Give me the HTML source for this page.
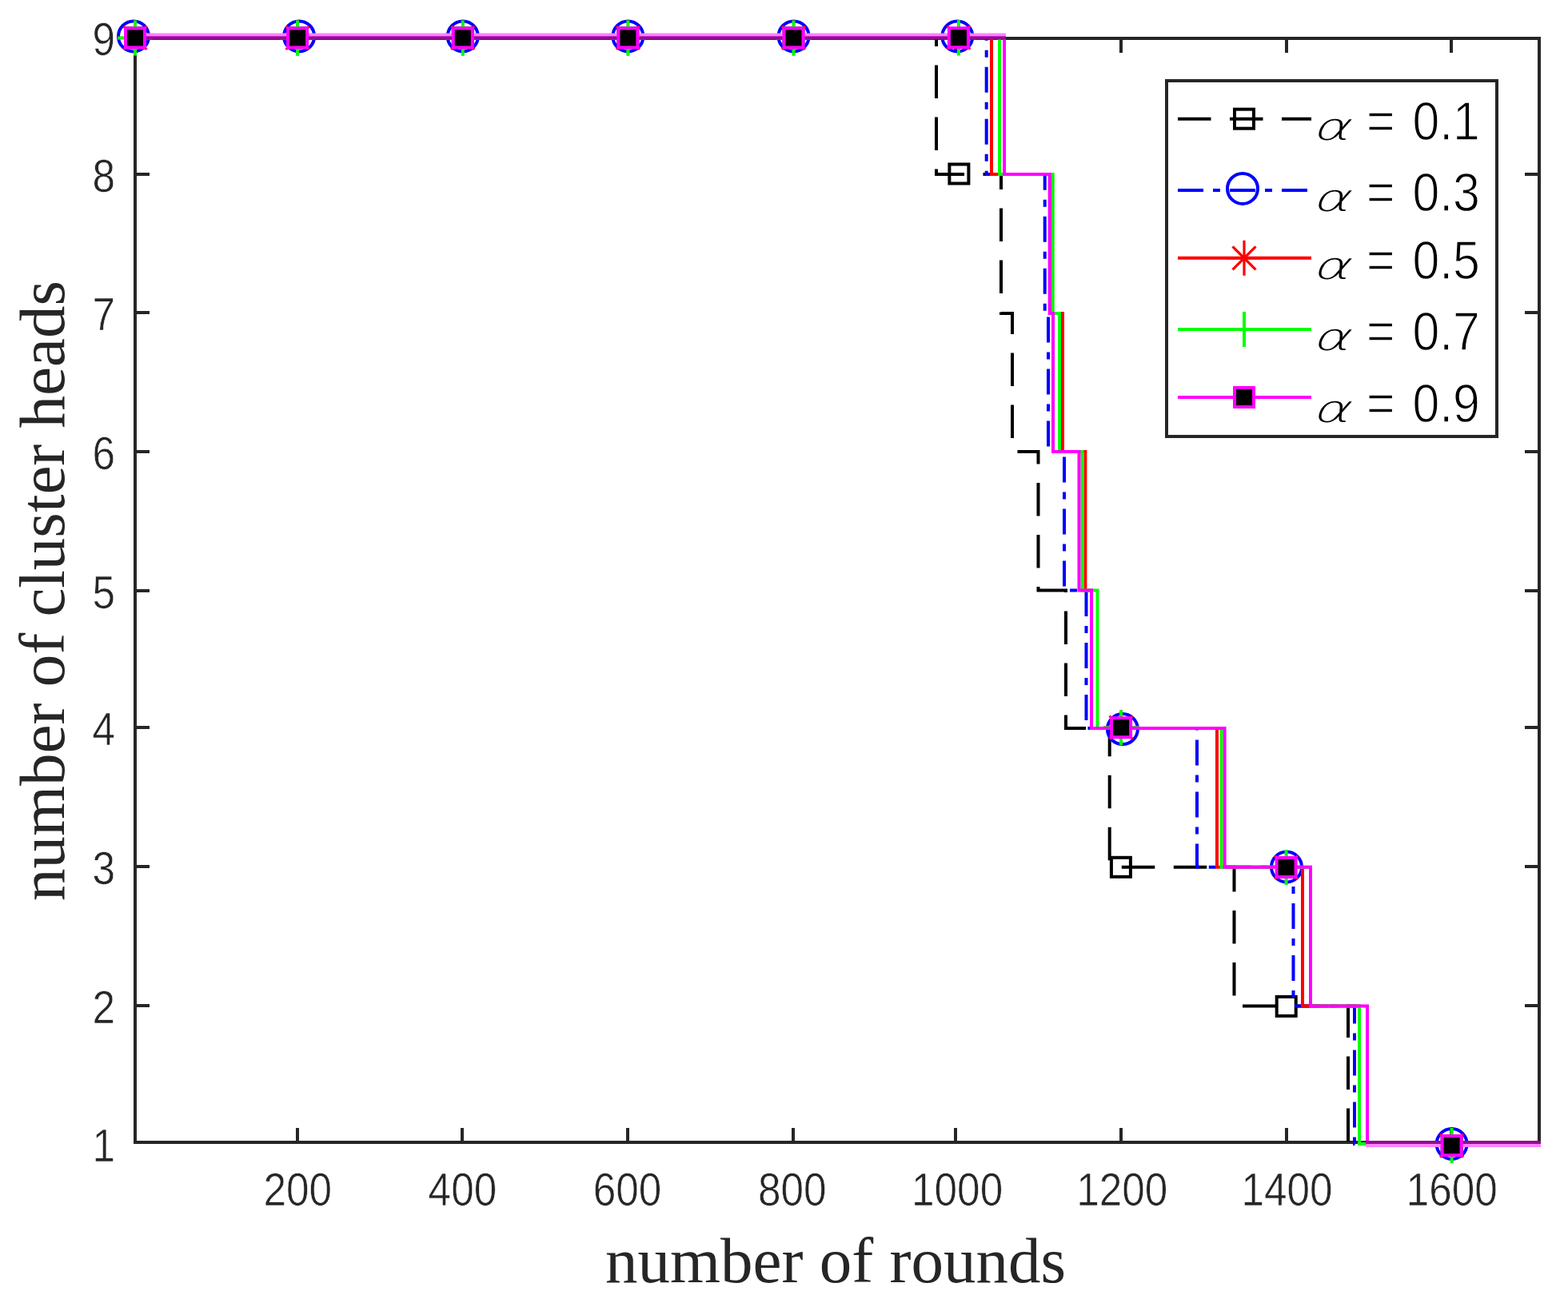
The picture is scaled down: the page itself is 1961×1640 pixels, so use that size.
<!DOCTYPE html>
<html lang="en"><head><meta charset="utf-8"><title>number of cluster heads vs number of rounds</title>
<style>
html,body{margin:0;padding:0;background:#fff;}
body{width:1961px;height:1640px;overflow:hidden;}
svg{display:block;}
.tick{font-family:"Liberation Sans",Arial,Helvetica,sans-serif;font-size:54px;fill:#262626;stroke:#fff;stroke-width:0.6px;paint-order:fill stroke;}
.lab{font-family:"Liberation Serif","Times New Roman",Times,serif;font-size:81px;fill:#262626;}
.leg{font-family:"Liberation Sans",Arial,Helvetica,sans-serif;font-size:69px;fill:#000;stroke:#fff;stroke-width:1.3px;paint-order:fill stroke;}
.alpha{font-family:"DejaVu Sans Light","DejaVu Sans ExtraLight","DejaVu Sans","Liberation Serif",serif;font-style:italic;font-size:47px;fill:#000;}
</style></head><body>
<svg width="1961" height="1640" viewBox="0 0 1961 1640" role="img" aria-label="number of cluster heads versus number of rounds">
<rect x="0" y="0" width="1961" height="1640" fill="#ffffff"/>
<g id="axes" stroke="#262626" stroke-width="4" fill="none" shape-rendering="crispEdges">
<rect x="169.0" y="47.5" width="1756.0" height="1381.5"/>
<path d="M371.7 1427.0V1411.0M371.7 49.5V65.5M578.3 1427.0V1411.0M578.3 49.5V65.5M785.0 1427.0V1411.0M785.0 49.5V65.5M991.7 1427.0V1411.0M991.7 49.5V65.5M1195.1 1427.0V1411.0M1195.1 49.5V65.5M1402.0 1427.0V1411.0M1402.0 49.5V65.5M1608.8 1427.0V1411.0M1608.8 49.5V65.5M1815.2 1427.0V1411.0M1815.2 49.5V65.5M171.0 218.0H187.0M1923.0 218.0H1907.0M171.0 391.0H187.0M1923.0 391.0H1907.0M171.0 565.0H187.0M1923.0 565.0H1907.0M171.0 739.0H187.0M1923.0 739.0H1907.0M171.0 910.0H187.0M1923.0 910.0H1907.0M171.0 1084.0H187.0M1923.0 1084.0H1907.0M171.0 1258.0H187.0M1923.0 1258.0H1907.0"/>
</g>
<g class="tick" text-anchor="middle">
<text transform="translate(372.2 1507.5) scale(0.95 1.05)">200</text>
<text transform="translate(578.4 1507.5) scale(0.95 1.05)">400</text>
<text transform="translate(784.6 1507.5) scale(0.95 1.05)">600</text>
<text transform="translate(990.8 1507.5) scale(0.95 1.05)">800</text>
<text transform="translate(1197.1 1507.5) scale(0.95 1.05)">1000</text>
<text transform="translate(1403.3 1507.5) scale(0.95 1.05)">1200</text>
<text transform="translate(1609.5 1507.5) scale(0.95 1.05)">1400</text>
<text transform="translate(1815.7 1507.5) scale(0.95 1.05)">1600</text>
</g>
<g class="tick" text-anchor="end">
<text transform="translate(144 69.0) scale(0.95 1.05)">9</text>
<text transform="translate(144 239.5) scale(0.95 1.05)">8</text>
<text transform="translate(144 412.5) scale(0.95 1.05)">7</text>
<text transform="translate(144 586.5) scale(0.95 1.05)">6</text>
<text transform="translate(144 760.5) scale(0.95 1.05)">5</text>
<text transform="translate(144 931.5) scale(0.95 1.05)">4</text>
<text transform="translate(144 1105.5) scale(0.95 1.05)">3</text>
<text transform="translate(144 1279.5) scale(0.95 1.05)">2</text>
<text transform="translate(144 1452.5) scale(0.95 1.05)">1</text>
</g>
<text class="lab" text-anchor="middle" x="1045" y="1604">number of rounds</text>
<text class="lab" text-anchor="middle" transform="translate(80 739) rotate(-90)">number of cluster heads</text>
<g id="plot" fill="none" stroke-linejoin="miter" stroke-linecap="butt">
<g id="a01">
<path d="M167.0 45.5L1171.0 45.5L1171.0 218.0L1252.0 218.0L1252.0 392.0L1266.0 392.0L1266.0 565.0L1298.5 565.0L1298.5 738.5L1333.0 738.5L1333.0 911.0L1387.7 911.0L1387.7 1084.7L1543.5 1084.7L1543.5 1258.5L1686.0 1258.5L1686.0 1431.0L1925.0 1431.0" stroke="#000000" stroke-width="4" stroke-dasharray="41.5 23.5"/>
<rect x="157.0" y="35.4" width="24" height="24" fill="none" stroke="#000000" stroke-width="4"/>
<rect x="360.1" y="35.4" width="24" height="24" fill="none" stroke="#000000" stroke-width="4"/>
<rect x="566.8" y="35.4" width="24" height="24" fill="none" stroke="#000000" stroke-width="4"/>
<rect x="773.4" y="35.4" width="24" height="24" fill="none" stroke="#000000" stroke-width="4"/>
<rect x="980.5" y="35.4" width="24" height="24" fill="none" stroke="#000000" stroke-width="4"/>
<rect x="1187.4" y="205.5" width="24" height="24" fill="none" stroke="#000000" stroke-width="4"/>
<rect x="1389.9" y="1072.8" width="24" height="24" fill="none" stroke="#000000" stroke-width="4"/>
<rect x="1596.7" y="1246.9" width="24" height="24" fill="none" stroke="#000000" stroke-width="4"/>
<rect x="1803.6" y="1421.1" width="24" height="24" fill="none" stroke="#000000" stroke-width="4"/>
</g>
<g id="a03">
<path d="M167.0 45.5L1233.7 45.5L1233.7 218.0L1306.7 218.0L1306.7 392.0L1311.0 392.0L1311.0 565.0L1331.0 565.0L1331.0 738.5L1358.5 738.5L1358.5 911.0L1497.0 911.0L1497.0 1084.7L1617.5 1084.7L1617.5 1258.5L1694.0 1258.5L1694.0 1431.0L1925.0 1431.0" stroke="#0000ff" stroke-width="4" stroke-dasharray="32 12 9 12"/>
<circle cx="167.0" cy="45.4" r="19" fill="none" stroke="#0000ff" stroke-width="4"/>
<circle cx="374.1" cy="45.4" r="19" fill="none" stroke="#0000ff" stroke-width="4"/>
<circle cx="578.8" cy="45.4" r="19" fill="none" stroke="#0000ff" stroke-width="4"/>
<circle cx="785.4" cy="45.4" r="19" fill="none" stroke="#0000ff" stroke-width="4"/>
<circle cx="992.6" cy="45.4" r="19" fill="none" stroke="#0000ff" stroke-width="4"/>
<circle cx="1197.3" cy="45.5" r="19" fill="none" stroke="#0000ff" stroke-width="4"/>
<circle cx="1403.9" cy="912.1" r="19" fill="none" stroke="#0000ff" stroke-width="4"/>
<circle cx="1609.0" cy="1084.5" r="19" fill="none" stroke="#0000ff" stroke-width="4"/>
<circle cx="1815.6" cy="1431.0" r="19" fill="none" stroke="#0000ff" stroke-width="4"/>
</g>
<g id="a05">
<path d="M167.0 45.5L1240.0 45.5L1240.0 218.0L1315.0 218.0L1315.0 392.0L1329.0 392.0L1329.0 565.0L1357.4 565.0L1357.4 738.5L1365.0 738.5L1365.0 911.0L1522.0 911.0L1522.0 1084.7L1629.0 1084.7L1629.0 1258.5L1700.0 1258.5L1700.0 1431.0L1925.0 1431.0" stroke="#ff0000" stroke-width="4"/>
<path d="M147.0 47.4h44M169.0 25.4v44M154.5 32.9l29 29M154.5 61.9l29 -29" fill="none" stroke="#ff0000" stroke-width="3.2"/>
<path d="M350.1 47.4h44M372.1 25.4v44M357.6 32.9l29 29M357.6 61.9l29 -29" fill="none" stroke="#ff0000" stroke-width="3.2"/>
<path d="M556.8 47.4h44M578.8 25.4v44M564.3 32.9l29 29M564.3 61.9l29 -29" fill="none" stroke="#ff0000" stroke-width="3.2"/>
<path d="M763.4 47.4h44M785.4 25.4v44M770.9 32.9l29 29M770.9 61.9l29 -29" fill="none" stroke="#ff0000" stroke-width="3.2"/>
<path d="M970.5 47.4h44M992.5 25.4v44M978.0 32.9l29 29M978.0 61.9l29 -29" fill="none" stroke="#ff0000" stroke-width="3.2"/>
<path d="M1176.9 47.2h44M1198.9 25.2v44M1184.4 32.7l29 29M1184.4 61.7l29 -29" fill="none" stroke="#ff0000" stroke-width="3.2"/>
<path d="M1380.1 910.2h44M1402.1 888.2v44M1387.6 895.7l29 29M1387.6 924.7l29 -29" fill="none" stroke="#ff0000" stroke-width="3.2"/>
<path d="M1586.6 1085.0h44M1608.6 1063.0v44M1594.1 1070.5l29 29M1594.1 1099.5l29 -29" fill="none" stroke="#ff0000" stroke-width="3.2"/>
<path d="M1793.6 1433.1h44M1815.6 1411.1v44M1801.1 1418.6l29 29M1801.1 1447.6l29 -29" fill="none" stroke="#ff0000" stroke-width="3.2"/>
</g>
<g id="a07">
<path d="M167.0 45.5L1250.0 45.5L1250.0 218.0L1316.7 218.0L1316.7 392.0L1325.0 392.0L1325.0 565.0L1353.5 565.0L1353.5 738.5L1372.5 738.5L1372.5 911.0L1527.6 911.0L1527.6 1084.7L1639.0 1084.7L1639.0 1258.5L1700.0 1258.5L1700.0 1431.0L1925.0 1431.0" stroke="#00ff00" stroke-width="4"/>
<path d="M147.0 47.4h44M169.0 25.4v44" fill="none" stroke="#00ff00" stroke-width="4"/>
<path d="M350.1 47.4h44M372.1 25.4v44" fill="none" stroke="#00ff00" stroke-width="4"/>
<path d="M556.8 47.4h44M578.8 25.4v44" fill="none" stroke="#00ff00" stroke-width="4"/>
<path d="M763.4 47.4h44M785.4 25.4v44" fill="none" stroke="#00ff00" stroke-width="4"/>
<path d="M970.5 47.4h44M992.5 25.4v44" fill="none" stroke="#00ff00" stroke-width="4"/>
<path d="M1176.9 47.2h44M1198.9 25.2v44" fill="none" stroke="#00ff00" stroke-width="4"/>
<path d="M1380.1 910.2h44M1402.1 888.2v44" fill="none" stroke="#00ff00" stroke-width="4"/>
<path d="M1586.6 1085.0h44M1608.6 1063.0v44" fill="none" stroke="#00ff00" stroke-width="4"/>
<path d="M1793.6 1433.1h44M1815.6 1411.1v44" fill="none" stroke="#00ff00" stroke-width="4"/>
</g>
<g id="a09">
<path d="M167.0 45.5L1256.0 45.5L1256.0 218.0L1312.7 218.0L1312.7 392.0L1317.0 392.0L1317.0 565.0L1349.5 565.0L1349.5 738.5L1365.0 738.5L1365.0 911.0L1531.6 911.0L1531.6 1084.7L1639.0 1084.7L1639.0 1258.5L1710.0 1258.5L1710.0 1431.0L1925.0 1431.0" stroke="#ff00ff" stroke-width="4"/>
<path d="M167 43.4H1258M1708 1433H1927" stroke="#ff80ff" stroke-width="4"/>
<path d="M167 47.4H1258M1708 1429H1927" stroke="#8f0f8f" stroke-width="4"/>
<rect x="157.0" y="35.4" width="24" height="24" fill="#000000" stroke="#ff00ff" stroke-width="4"/>
<rect x="360.1" y="35.4" width="24" height="24" fill="#000000" stroke="#ff00ff" stroke-width="4"/>
<rect x="566.8" y="35.4" width="24" height="24" fill="#000000" stroke="#ff00ff" stroke-width="4"/>
<rect x="773.4" y="35.4" width="24" height="24" fill="#000000" stroke="#ff00ff" stroke-width="4"/>
<rect x="980.5" y="35.4" width="24" height="24" fill="#000000" stroke="#ff00ff" stroke-width="4"/>
<rect x="1186.9" y="35.2" width="24" height="24" fill="#000000" stroke="#ff00ff" stroke-width="4"/>
<rect x="1390.1" y="898.2" width="24" height="24" fill="#000000" stroke="#ff00ff" stroke-width="4"/>
<rect x="1596.6" y="1073.0" width="24" height="24" fill="#000000" stroke="#ff00ff" stroke-width="4"/>
<rect x="1803.6" y="1421.1" width="24" height="24" fill="#000000" stroke="#ff00ff" stroke-width="4"/>
</g>
</g>
<g id="legend">
<rect x="1459.0" y="100.5" width="413.0" height="445.5" fill="#ffffff" stroke="#262626" stroke-width="4" shape-rendering="crispEdges"/>
<path d="M1473 148.7H1640" fill="none" stroke="#000000" stroke-width="4" stroke-dasharray="41.5 23.5"/>
<rect x="1544.0" y="136.7" width="24" height="24" fill="none" stroke="#000000" stroke-width="4"/>
<text class="alpha" x="1640" y="175.0" textLength="47" lengthAdjust="spacingAndGlyphs">α</text>
<text class="leg" transform="translate(1709 175.0) scale(0.88 1)">= <tspan x="65.3">0.1</tspan></text>
<path d="M1473 237.9H1640" fill="none" stroke="#0000ff" stroke-width="4" stroke-dasharray="32 12 9 12"/>
<circle cx="1554.0" cy="235.9" r="19" fill="none" stroke="#0000ff" stroke-width="4"/>
<text class="alpha" x="1640" y="264.0" textLength="47" lengthAdjust="spacingAndGlyphs">α</text>
<text class="leg" transform="translate(1709 264.0) scale(0.88 1)">= <tspan x="65.3">0.3</tspan></text>
<path d="M1473 322.8H1640" fill="none" stroke="#ff0000" stroke-width="4"/>
<path d="M1534.0 322.8h44M1556.0 300.8v44M1541.5 308.3l29 29M1541.5 337.3l29 -29" fill="none" stroke="#ff0000" stroke-width="3.2"/>
<text class="alpha" x="1640" y="349.0" textLength="47" lengthAdjust="spacingAndGlyphs">α</text>
<text class="leg" transform="translate(1709 349.0) scale(0.88 1)">= <tspan x="65.3">0.5</tspan></text>
<path d="M1473 412.1H1640" fill="none" stroke="#00ff00" stroke-width="4"/>
<path d="M1534.0 412.1h44M1556.0 390.1v44" fill="none" stroke="#00ff00" stroke-width="4"/>
<text class="alpha" x="1640" y="438.2" textLength="47" lengthAdjust="spacingAndGlyphs">α</text>
<text class="leg" transform="translate(1709 438.2) scale(0.88 1)">= <tspan x="65.3">0.7</tspan></text>
<path d="M1473 497.0H1640" fill="none" stroke="#ff00ff" stroke-width="4"/>
<rect x="1544.0" y="485.0" width="24" height="24" fill="#000000" stroke="#ff00ff" stroke-width="4"/>
<text class="alpha" x="1640" y="528.0" textLength="47" lengthAdjust="spacingAndGlyphs">α</text>
<text class="leg" transform="translate(1709 528.0) scale(0.88 1)">= <tspan x="65.3">0.9</tspan></text>
</g>
</svg>
</body></html>
